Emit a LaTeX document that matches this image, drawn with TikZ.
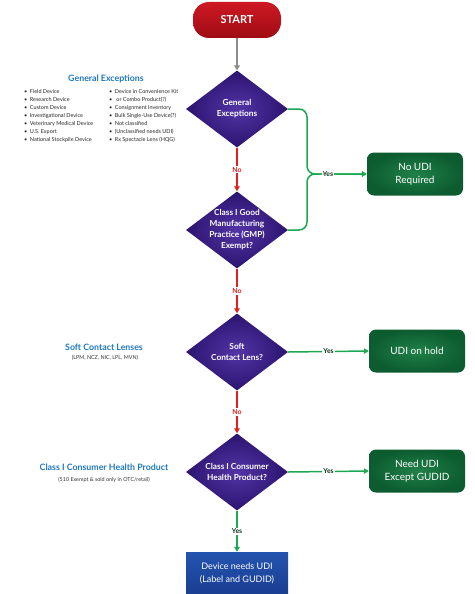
\documentclass[tikz,border=0pt]{standalone}
\usepackage{fontspec}
\setmainfont{Lato}
\usepackage{xcolor}
\usetikzlibrary{shapes.geometric,arrows.meta}

\definecolor{startred}{RGB}{205,25,35}
\definecolor{startdark}{RGB}{160,12,20}
\definecolor{diapurple}{RGB}{82,52,165}
\definecolor{diadark}{RGB}{44,20,112}
\definecolor{boxgreen}{RGB}{32,128,72}
\definecolor{boxdark}{RGB}{12,92,48}
\definecolor{boxblue}{RGB}{36,84,176}
\definecolor{boxbluedark}{RGB}{26,62,146}
\definecolor{headblue}{RGB}{30,120,192}
\definecolor{yesgreen}{RGB}{28,168,82}
\definecolor{nored}{RGB}{226,32,32}

\begin{document}
\begin{tikzpicture}[
        x=1pt, y=-1pt,
        startnode/.style={rounded corners=16pt, minimum width=88pt, minimum height=36pt,
            top color=startred, bottom color=startdark, text=white,
            font=\fontsize{11}{12}\selectfont\bfseries},
        decision/.style={shape=diamond, minimum width=102pt, minimum height=77pt, inner sep=-8pt,
            inner color=diapurple, outer color=diadark, text=white, align=center,
            font=\fontsize{8.3}{11}\selectfont\bfseries},
        endnode/.style={rounded corners=7pt, minimum width=96pt, minimum height=43pt,
            inner color=boxgreen, outer color=boxdark, text=white, align=center,
            font=\fontsize{10}{13}\selectfont},
        finalnode/.style={minimum width=102pt, minimum height=42pt,
            top color=boxblue, bottom color=boxbluedark, text=white, align=center,
            font=\fontsize{9}{13}\selectfont},
        heading/.style={text=headblue, font=\fontsize{8.8}{10}\selectfont\bfseries},
        subnote/.style={text=black!80, font=\fontsize{5.4}{6}\selectfont},
        bulletlist/.style={anchor=north west, inner sep=0pt, align=left, text=black!85,
            font=\fontsize{5.5}{8}\selectfont},
        startline/.style={draw=black!45, line width=1.8pt, -{Triangle[length=5pt, width=6pt]}},
        noline/.style={draw=nored, line width=1.5pt, -{Triangle[length=5pt, width=5.5pt]}},
        yesline/.style={draw=yesgreen, line width=1.5pt, -{Triangle[length=5pt, width=5.5pt]}},
        nolabel/.style={fill=white, inner sep=1pt, text=nored, font=\fontsize{7}{8}\selectfont\bfseries},
        yeslabel/.style={fill=white, inner sep=1pt, text=black!70!yesgreen, font=\fontsize{6.8}{8}\selectfont\bfseries},
    ]
        \useasboundingbox (0,0) rectangle (474,594);

        % main column
        \node[startnode] (start) at (237,20) {START};
        \node[decision] (genexc) at (237,109) {General\\Exceptions};
        \node[decision] (gmp) at (237,230) {Class I Good\\Manufacturing\\Practice (GMP)\\Exempt?};
        \node[decision] (soft) at (237,352) {Soft\\Contact Lens?};
        \node[decision] (consumer) at (237,472) {Class I Consumer\\Health Product?};
        \node[finalnode] (needsudi) at (237,573) {Device needs UDI\\(Label and GUDID)};

        % outcomes
        \node[endnode] (noudi) at (415,174) {No UDI\\Required};
        \node[endnode] (onhold) at (417,351) {UDI on hold};
        \node[endnode] (exceptgudid) at (417,471) {Need UDI\\Except GUDID};
        \coordinate (merge) at (307,174);

        % notes on the left
        \node[heading] (genhead) at (106,79) {General Exceptions};
        \node[bulletlist] (listleft) at (24,89.5) {%
            \textbullet\hspace{2.5pt}Field Device\\
            \textbullet\hspace{2.5pt}Research Device\\
            \textbullet\hspace{2.5pt}Custom Device\\
            \textbullet\hspace{2.5pt}Investigational Device\\
            \textbullet\hspace{2.5pt}Veterinary Medical Device\\
            \textbullet\hspace{2.5pt}U.S. Export\\
            \textbullet\hspace{2.5pt}National Stockpile Device};
        \node[bulletlist] (listright) at (109,89.5) {%
            \textbullet\hspace{2.5pt}Device in Convenience Kit\\
            \textbullet\hspace{4pt}or Combo Product(?)\\
            \textbullet\hspace{2.5pt}Consignment Inventory\\
            \textbullet\hspace{2.5pt}Bulk Single-Use Device(?)\\
            \textbullet\hspace{2.5pt}Not classified\\
            \textbullet\hspace{2.5pt}(Unclassified needs UDI)\\
            \textbullet\hspace{2.5pt}Rx Spectacle Lens (HQG)};
        \node[heading] (softhead) at (104,347) {Soft Contact Lenses};
        \node[subnote] (softnote) at (105,358) {(LPM, NCZ, NIC, LPL, MVN)};
        \node[heading] (conshead) at (104,467) {Class I Consumer Health Product};
        \node[subnote] (consnote) at (104,480) {(510 Exempt \& sold only in OTC/retail)};

        % connectors
        \draw[startline] (start) -- (genexc);
        \draw[noline] (genexc) -- node[nolabel] {No} (gmp);
        \draw[noline] (gmp) -- node[nolabel] {No} (soft);
        \draw[noline] (soft) -- node[nolabel] {No} (consumer);
        \draw[yesline] (consumer) -- node[yeslabel] {Yes} (needsudi);
        \draw[yesline, rounded corners=8pt] (gmp.east) -| (merge) -- (noudi.west);
        \draw[yesline, rounded corners=8pt] (genexc.east) -| (merge) -- node[yeslabel, pos=0.35] {Yes} (noudi.west);
        \draw[yesline] (soft.east) -- node[yeslabel, pos=0.5] {Yes} (onhold.west);
        \draw[yesline] (consumer.east) -- node[yeslabel, pos=0.5] {Yes} (exceptgudid.west);
    \end{tikzpicture}
\end{document}
